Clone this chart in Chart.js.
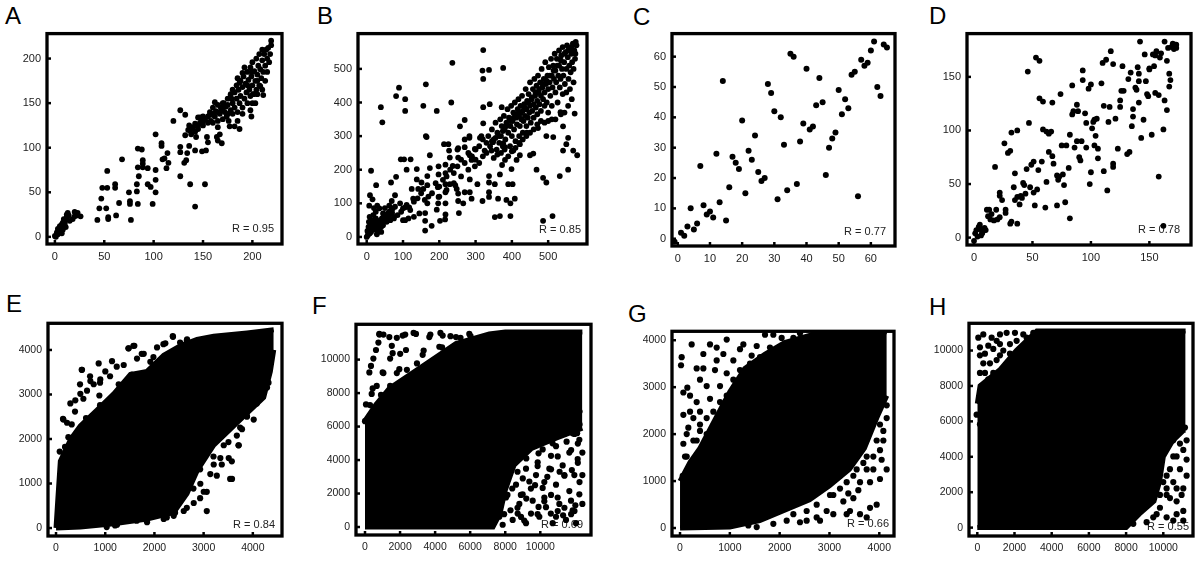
<!DOCTYPE html>
<html>
<head>
<meta charset="utf-8">
<script src="https://cdn.jsdelivr.net/npm/chart.js@4.4.1/dist/chart.umd.min.js"></script>
<style>
  html, body { margin: 0; padding: 0; background: #fff; }
  body { position: relative; width: 1200px; height: 568px; overflow: hidden; font-family: "Liberation Sans", Arial, sans-serif; }
  canvas { position: absolute; }
  .panel-letter { position: absolute; font-size: 24px; line-height: 24px; color: #000; }
</style>
</head>
<body>
<script>
// ---- data ----
const ticksA = [0, 50, 100, 150, 200];
const ticksB = [0, 100, 200, 300, 400, 500];
const ticksC = [0, 10, 20, 30, 40, 50, 60];
const ticksD = [0, 50, 100, 150];
const ticksE = [0, 1000, 2000, 3000, 4000];
const ticksF = [0, 2000, 4000, 6000, 8000, 10000];
const ticksG = [0, 1000, 2000, 3000, 4000];
const ticksH = [0, 2000, 4000, 6000, 8000, 10000];

const rValues = ['R = 0.95', 'R = 0.85', 'R = 0.77', 'R = 0.78', 'R = 0.84', 'R = 0.69', 'R = 0.66', 'R = 0.55'];

const pointsA = [
  [0,1],[2,3],[2,5],[3,9],[4,7],[5,12],[7,4],[7,14],[8,8],[8,16],[9,13],[10,18],[11,11],[12,22],[13,27],[15,18],[18,20],
  [20,23],[23,27],[26,23],[1,0],[5,10],[6,6],[10,15],[12,25],[3,3],[9,20],[14,24],[20,28],[22,24],
  [43,19],[45,32],[47,43],[48,55],[52,32],[53,74],[53,55],[54,22],[54,20],[61,59],[61,55],[62,24],[65,38],[68,87],[75,50],
  [76,40],[76,37],[77,19],[83,51],[83,59],[84,78],[84,99],[84,37],[85,68],[88,98],[89,86],[89,82],[89,78],[94,77],[94,59],
  [97,56],[99,37],[102,50],[102,115],[102,64],[102,75],[108,105],[108,102],[109,87],[111,88],[113,77],[114,94],[115,83],
  [120,130],[127,142],[127,68],[127,101],[127,95],[132,137],[131,83],[132,114],[133,86],[134,94],[135,120],[137,59],[136,102],
  [137,119],[142,127],[142,97],[142,34],[143,112],[145,134],[145,121],[147,134],[149,96],[150,130],[152,59],[154,112],[153,97],
  [155,106],[157,137],[160,137],[162,151],[164,112],[165,108],[165,123],[167,115],[169,105],[171,150],[174,135],[177,124],
  [179,155],[182,124],[187,121],[187,173],[190,184],[199,135],[201,160],[208,169],[211,159],[219,220],
  [150,125],[152,132],[155,128],[157,140],[158,130],[160,145],[160,128],[162,135],[163,141],[165,130],[165,148],[167,138],
  [168,145],[170,132],[170,150],[172,140],[173,146],[175,138],[175,155],[176,130],[178,142],[178,160],[180,150],[180,138],
  [182,162],[182,145],[184,155],[184,170],[185,140],[186,165],[187,150],[188,175],[188,158],[190,145],[190,168],[191,180],
  [192,155],[193,172],[194,162],[195,150],[195,185],[196,176],[197,165],[198,158],[198,190],[199,180],[200,170],[200,196],
  [201,160],[202,186],[203,175],[204,165],[204,200],[205,182],[206,192],[207,170],[207,205],[208,188],[209,178],[210,198],
  [210,165],[211,185],[212,205],[213,192],[213,175],[214,210],[215,200],[215,185],[216,212],[217,196],[218,205],[219,215],
  [210,210],[205,175],[200,185],[195,170],[192,190],[185,178],[180,165],[175,148],[170,142],[165,140],[160,138],[155,135],
  [150,135],[147,128],[145,125],[142,118],[140,123],[138,115],[136,125],[200,150],[203,150],[205,160],[198,142],[190,138],[185,130]
];

const pointsB = [
  [39,386],[43,341],[12,197],[26,154],[81,419],[89,444],[106,410],[106,375],[94,231],[103,231],[121,231],[110,200],[163,454],
  [156,390],[163,300],[165,297],[193,375],[174,243],[236,518],[233,400],[321,556],[319,495],[321,470],[337,497],[376,503],
  [9,124],[16,112],[7,93],[20,86],[29,93],[50,86],[62,93],[69,107],[78,124],[81,179],[67,162],[92,100],[106,50],[106,88],
  [117,88],[128,114],[124,143],[138,171],[138,202],[142,143],[151,162],[156,143],[161,71],[161,48],[161,19],[167,100],
  [167,181],[167,154],[174,205],[179,33],[193,81],[197,100],[198,119],[196,148],[198,186],[198,210],[202,48],[216,52],
  [217,67],[217,100],[217,133],[217,157],[217,190],[217,215],[213,276],[225,276],[227,257],[229,236],[237,211],[229,157],
  [244,154],[248,143],[254,71],[252,107],[252,129],[252,236],[252,264],[257,329],[266,100],[270,133],[270,267],[270,348],
  [283,300],[283,295],[284,243],[289,229],[284,171],[284,133],[289,114],[298,210],[298,262],[305,157],[312,295],[316,300],
  [319,107],[321,386],[321,338],[325,257],[337,181],[337,162],[337,133],[337,119],[339,395],[344,257],[348,282],[353,157],
  [353,59],[367,62],[362,114],[367,186],[373,214],[376,278],[381,229],[381,267],[372,386],[385,110],[390,157],[396,100],
  [396,62],[402,157],[399,202],[404,257],[408,114],[413,229],[422,243],[422,276],[450,243],[459,248],[468,200],[486,176],
  [495,162],[486,48],[512,62],[532,181],[555,200],[541,257],[550,276],[555,295],[569,257],[580,243],[573,367],[534,371],
  [541,329],[514,297],[495,300],[472,324],[441,310],
  [0,0],[3,5],[5,12],[8,10],[10,20],[12,15],[15,25],[18,30],[20,22],[22,35],[25,28],[28,40],[30,32],[32,45],[35,38],[38,50],
  [40,42],[42,55],[45,48],[48,60],[50,52],[52,65],[55,58],[58,70],[60,62],[62,75],[65,68],[68,80],[70,72],[72,85],[75,60],
  [78,90],[10,35],[15,40],[20,48],[25,55],[5,30],[30,20],[35,25],[40,30],[45,35],[12,50],[8,60],[18,65],[25,75],[35,85],
  [45,70],[55,45],[65,50],[75,55],[85,65],[95,75],[100,85],[110,95],[120,80],[130,105],[140,115],[150,130],[145,70],[130,60],
  [115,55],[100,50],[28,8],[2,18],[6,45],[40,15],
  [330,280],[335,300],[340,270],[345,320],[350,290],[355,340],[358,260],[360,310],[365,280],[368,350],[370,300],[372,330],
  [375,270],[378,360],[380,320],[382,290],[385,340],[388,380],[390,310],[392,355],[395,270],[396,330],[398,390],[400,300],
  [402,345],[404,370],[406,320],[408,400],[410,285],[412,355],[414,335],[416,380],[418,410],[420,300],[420,360],[422,330],
  [424,390],[426,350],[428,420],[430,310],[430,375],[432,345],[434,395],[436,360],[438,440],[440,330],[440,380],[442,405],
  [444,355],[446,425],[448,370],[450,390],[450,460],[452,340],[454,410],[456,375],[458,440],[460,395],[460,355],[462,470],
  [464,420],[466,385],[468,450],[470,365],[470,405],[472,480],[474,430],[476,395],[478,460],[480,375],[480,420],[482,500],
  [484,445],[486,410],[488,470],[490,390],[490,430],[492,520],[494,455],[496,400],[498,480],[500,440],[500,370],[502,505],
  [504,460],[506,420],[508,530],[510,480],[510,390],[512,445],[514,510],[516,470],[518,545],[520,430],[520,495],[522,460],
  [524,530],[526,400],[528,480],[530,555],[530,510],[532,445],[534,470],[536,540],[538,500],[540,425],[540,565],[542,480],
  [544,520],[546,455],[548,550],[550,500],[550,430],[552,570],[554,535],[556,470],[558,510],[560,560],[560,440],[562,490],
  [564,545],[566,520],[568,575],[570,500],[570,460],[572,555],[574,530],[576,580],[578,570],[575,545],[565,565],[555,555],
  [545,545],[535,525],[525,510],[515,495],[505,480],[495,465],[485,455],[475,440],[465,430],[455,415],[445,400],[435,385],
  [425,370],[415,365],[405,355],[395,345],[385,330],[375,315],[365,300],[355,295],[345,285],[565,410],[555,390],[545,370],
  [535,365],[520,350],[510,350],[500,345],[490,340],[480,345],[470,335],[460,320],[450,310],[440,300],[430,290],[420,280],
  [410,265],[400,255],[390,240],[380,260],[370,250],[360,245],[350,235],
  [200,150],[210,170],[220,180],[230,200],[240,190],[250,210],[260,230],[270,220],[280,250],[290,240],[300,260],[310,270],
  [320,290],[300,230],[280,200],[260,180],[240,160],[220,140],[200,120],[180,130],[170,120],[160,110],[190,160],[250,260],
  [270,290],[310,220],[320,240],[330,250]
];

const pointsC = [
  [-1,-1],[1,2],[2,1],[3,4],[4,10],[5,3],[6,5],[7,24],[8,11],[9,8],[10,9],[11,7],[12,28],[13,12],[14,52],[15,6],[16,17],
  [17,27],[18,25],[19,23],[20,39],[21,15],[22,29],[23,26],[24,34],[25,22],[26,19],[27,20],[28,51],[29,48],[30,42],[31,13],
  [32,40],[33,31],[34,16],[35,61],[36,60],[37,18],[38,32],[39,38],[40,56],[41,36],[42,37],[43,44],[44,53],[45,45],[46,21],
  [47,30],[48,33],[49,35],[50,49],[51,41],[52,46],[53,43],[54,54],[55,55],[56,14],[57,59],[58,57],[59,58],[60,62],[61,65],
  [62,50],[63,47],[64,64],[65,63]
];

const pointsD = [
  [0,-3],[1,4],[2,7],[4,10],[5,12],[5,8],[7,5],[7,4],[9,7],[9,9],[10,7],[3,1],[6,2],[11,26],[13,26],[12,20],[14,17],[15,22],
  [17,16],[18,66],[19,26],[20,17],[22,19],[22,42],[22,39],[24,35],[26,88],[27,26],[27,23],[29,79],[31,81],[31,13],[32,15],
  [32,98],[34,47],[35,60],[35,35],[37,100],[37,38],[37,13],[39,31],[40,39],[41,37],[42,51],[43,49],[44,41],[46,155],[45,64],
  [47,107],[48,47],[49,68],[51,71],[51,42],[52,30],[53,168],[54,45],[55,63],[56,165],[56,130],[58,71],[59,101],[59,127],
  [61,28],[62,99],[62,52],[64,97],[64,80],[66,99],[67,126],[67,76],[68,69],[71,58],[71,30],[72,54],[73,57],[74,134],[75,86],
  [76,59],[77,49],[78,33],[79,86],[81,65],[82,18],[82,96],[84,115],[84,142],[85,118],[86,84],[88,90],[88,124],[89,118],
  [90,75],[91,72],[92,90],[93,147],[93,156],[95,116],[96,107],[96,84],[98,139],[99,50],[100,143],[100,61],[101,102],[102,108],
  [103,86],[103,110],[104,95],[105,111],[106,74],[106,83],[109,144],[110,163],[111,62],[111,123],[113,166],[114,44],[115,108],
  [116,122],[117,174],[119,162],[119,69],[119,66],[121,111],[123,83],[125,122],[125,128],[126,137],[128,137],[127,160],
  [131,78],[133,80],[132,148],[134,154],[135,104],[136,120],[136,113],[138,140],[139,138],[140,159],[141,146],[141,126],
  [141,153],[142,183],[143,93],[145,110],[146,171],[147,146],[148,134],[149,132],[150,158],[150,157],[152,96],[153,171],
  [154,160],[155,170],[155,135],[156,174],[158,57],[158,133],[159,168],[160,172],[162,11],[162,101],[163,128],[163,183],
  [165,165],[165,119],[166,177],[167,141],[167,153],[168,147],[169,178],[170,181],[171,176],[172,180],[173,177],[173,180]
];

// E-H: outline of the solid black cloud (upper and lower edge) plus the separate points outside it
const edgeTopE = [[0,0],[40,700],[88,1500],[300,2000],[494,2292],[833,2653],[1173,3014],[1510,3446],[1850,3518],[2189,3879],[2527,4095],[2866,4238],[3205,4311],[3882,4383],[4425,4454]];
const edgeLowE = [[0,0],[494,22],[1173,95],[1850,203],[2392,346],[2663,778],[2866,1284],[3205,1860],[3612,2292],[3882,2581],[4221,2935],[4356,3518],[4425,4000]];
const pointsE = [
  [522,3553],[881,2977],[895,2760],[610,2472],[150,2436],[183,1823],[488,3229],[319,2328],[556,2904],[1098,3409],[1234,3625],
  [1336,3120],[1539,3445],[1471,4036],[1573,4094],[1742,3914],[1980,3841],[2183,4130],[2373,4310],[2522,4166],[2658,4202],
  [895,3265],[692,3409],[251,2040],[115,1030],[386,2616],[759,2328],
  [528,3555],[867,3697],[1138,3749],[1477,4037],[1592,4095],[1783,3914],[2222,4151],[2378,4296],[698,3302],[766,3230],
  [1002,3518],[1274,3230],[494,3014],[291,2798],[142,2452],[224,2365],[75,1717],[392,2869],[630,3085],[900,3338],[1376,3662],
  [1646,3806],[1917,3734],[2053,4058],[2663,4238],
  [1030,22],[1200,58],[1640,166],[1844,238],[2047,310],[2420,346],[2658,454],[2929,670],[3064,814],[3268,1175],[3539,1103],
  [3573,1499],[3675,2076],[3709,1859],[3878,2508],[4081,2796],[4217,3049],[4319,3265],[2929,1319],[2793,886],[3200,1607],
  [2522,598],[2047,526],[3064,382],[3742,2256],[3505,1931],[3369,1427],[2251,238],
  [3577,1103],[3510,1572],[3340,1572],[3713,1860],[3882,2508],[4085,2832],[3136,1211],[3002,815],[2799,562],[2596,383],
  [2392,275],[2933,995],[3205,1427],[3409,1860],[3780,2221],[4018,2437],[4289,3157],[1240,74],[1850,130],[2189,203]
];

const edgeTopF = [[0,6360],[627,7320],[1390,8276],[3290,9620],[5190,10960],[7090,11535],[8000,11650],[12400,11650]];
const edgeLowF = [[0,0],[7300,0],[7700,800],[8000,2200],[8500,3700],[9500,4700],[10900,5300],[12400,5900]];
const pointsF = [
  [249,9235],[478,10059],[765,11017],[822,11496],[1052,11496],[1530,10826],[1816,11304],[2294,11496],[2772,11592],[1434,10059],
  [2008,10346],[1052,9197],[669,8430],[382,7951],[287,7281],[0,6323],[860,6898],[1816,9197],[3346,10538],[3729,11496],
  [4302,11592],[4876,11400],[5449,11304],[6023,11400],[4398,10730],[2964,9771],[2390,9388],[1434,8430],
  [817,11534],[1388,11343],[2150,11437],[2909,11534],[3669,11343],[4430,11437],[5191,11343],[5950,11534],[627,10575],
  [1578,10383],[2339,10575],[3290,10287],[4240,10767],[342,9620],[1008,9237],[1958,9428],[437,8276],[57,7320],[913,7893],
  [6405,383],[7170,383],[7935,766],[8700,1150],[9082,383],[9847,766],[10229,1533],[10612,1916],[10994,958],[11376,1150],
  [11759,766],[11950,958],[12237,2682],[12141,3832],[11759,4599],[11950,5557],[12237,6131],[11376,5557],[10994,4215],
  [10612,3449],[10229,2682],[9464,2299],[8891,1916],[8126,1916],[7552,1150],[6788,766],[9847,3640],[11376,3066],[12141,4982],
  [12237,6898],[11950,7281],
  [8424,5787],[8994,5594],[9755,5977],[10515,5690],[11276,5977],[11847,5594],[12227,5211],[8234,4828],[8804,4444],[9565,5019],
  [10135,4636],[10896,4828],[11656,4444],[12132,4061],[8424,3678],[9184,3487],[9850,3870],[10515,3487],[11276,3678],[11942,3103],
  [7853,2912],[8614,2529],[9375,2720],[10135,2337],[10896,2529],[11656,2146],[12227,1954],[8043,1762],[8804,1379],[9565,1571],
  [10325,1188],[11086,1379],[11847,996],[7662,613],[8424,421],[9184,230],[9945,613],[10706,230],[11466,421],[12037,230],
  [7853,134],[8709,805],[9470,805],[10230,1762],[10991,1762],[11751,1571],[12400,3103],[12400,4444],[12400,1379],[8994,1954],
  [9755,3103],[10610,4253],[11371,3103],[8138,4061],[10896,613],
  [8700,3300],[9200,4100],[9900,4400],[10700,5000],[11500,5100],[12100,5600],[9000,2900],[9700,2500],[10400,3000],[11100,3300],
  [11800,3400],[8400,2300],[9200,1700],[9900,1200],[10600,800],[11300,700],[12000,1300],[8300,1000],[8900,600]
];

const edgeTopG = [[0,1000],[200,1400],[400,1700],[700,2300],[1000,2900],[1300,3400],[1700,3700],[2100,3950],[2600,4100],[3000,4170],[4150,4180]];
const edgeLowG = [[0,0],[1000,20],[1600,160],[2100,380],[2600,600],[3000,900],[3400,1250],[3700,1700],[3950,2350],[4150,2820]];
const pointsG = [
  [33,3638],[20,3467],[234,3911],[67,2887],[147,2990],[201,2819],[334,3399],[401,3160],[468,3399],[535,3024],[736,3843],
  [870,3707],[937,4014],[702,3365],[167,2137],[67,2410],[268,2341],[100,1522],[54,1113],[401,2205],[602,1864],[334,1864],
  [1271,3911],[1539,3877],[1706,4116],[1873,4116],[2040,4048],[2408,4150],[1070,3570],[1204,3809],[1438,3672],[1806,3843],
  [1873,3638],[2275,4048],[2676,4150],
  [134,2000],[268,1864],[401,2068],[535,2341],[669,2478],[803,2683],[937,2819],[401,2478],[602,2751],[803,3024],[1070,3160],
  [1204,3365],[937,3297],[1405,3502],[1606,3638],[736,3570],[201,2478],[134,1522],[268,1386],[67,1795],[535,2000],[334,2683],
  [468,3707],[602,3911],
  [970,89],[1371,55],[1539,20],[2141,157],[2408,123],[2743,225],[2943,362],[3077,294],[3278,567],[3412,362],[3613,294],
  [3747,225],[3814,430],[3947,498],[3378,737],[3579,806],[3814,976],[4014,1044],[4148,1249],[4047,1454],[3880,1522],
  [3747,1249],[3947,1864],[4081,1864],[4014,2205],[4148,2341],[3613,976],[3211,840],[3010,703],[2743,498],[2542,362],
  [2275,294],[3680,1386],[3479,1113],
  [3077,703],[3211,1113],[3345,976],[3546,1249],[3747,1522],[3880,1249],[4014,1659],[4081,2068],[4148,2614],[3479,635],
  [3345,294],[2810,157],[2542,157],[1873,89]
];

const edgeTopH = [[0,7000],[150,8000],[1200,8900],[2100,10000],[3200,11100],[11200,11100]];
const edgeLowH = [[0,0],[8000,0],[8700,760],[9500,1500],[9800,2600],[10000,4000],[10500,4900],[11100,5500],[11200,5500]];
const pointsH = [
  [54,10727],[323,10908],[143,10183],[143,9730],[323,9277],[591,10274],[860,10093],[1039,10546],[1219,10908],[1577,10999],
  [2025,10999],[2473,10908],[1756,10365],[1219,9730],[681,9277],[412,8734],[233,8009],[591,8371],[771,7646],[143,7103],[-36,6378],
  [143,8734],[412,9821],[1039,9459],[1398,10002],[1756,9821],[2115,10546],[2652,10727],[3011,10999],[771,10727],[1219,10365],
  [502,7646],[860,8734],[143,5835],
  [10179,5472],[10537,4929],[10716,4023],[11075,4385],[10895,3298],[11254,2935],[10537,2573],[10179,1848],[10716,1486],
  [11075,2211],[9820,1123],[10179,580],[10716,761],[9462,580],[9104,308],[10179,2211],[10358,3298],[11075,942],[11254,3842],
  [10716,5653],[11254,4929],[8387,217],[8028,127],
  [10537,4023],[10895,4747],[11164,5653],[10179,2935],[10716,2211],[10358,1667],[10985,1848],[9820,1848],[9641,761],
  [10537,399],[11075,399],[9999,2573]
];

// ---- layout (pixel boxes of each frame, axis windows) ----
const FONT = '"Liberation Sans", Arial, sans-serif';
const panels = [
  { letter: 'A', lx: 5,   ly: 4,   box: [47, 25, 282, 244],   xr: [-8, 230],      yr: [-8, 228],      ticks: ticksA, pts: pointsA, r: 2.9, fs: 11,   rPos: [8, 15] },
  { letter: 'B', lx: 317, ly: 4,   box: [358, 25, 587, 244],  xr: [-24, 607],     yr: [-21, 605],     ticks: ticksB, pts: pointsB, r: 2.9, fs: 11,   rPos: [6, 14] },
  { letter: 'C', lx: 633, ly: 5,   box: [672, 25, 895, 246],  xr: [-1.8, 67.5],   yr: [-2.4, 67.6],   ticks: ticksC, pts: pointsC, r: 3.0, fs: 11,   rPos: [9, 14] },
  { letter: 'D', lx: 929, ly: 4,   box: [967, 25, 1191, 245], xr: [-6, 185.6],    yr: [-6.9, 190.4],  ticks: ticksD, pts: pointsD, r: 2.9, fs: 11,   rPos: [11, 15] },
  { letter: 'E', lx: 6,   ly: 292, box: [48, 315, 282, 536],  xr: [-163, 4593],   yr: [-179, 4599],   ticks: ticksE, pts: pointsE, r: 3.1, fs: 10.5, rPos: [7, 11], top: edgeTopE, low: edgeLowE },
  { letter: 'F', lx: 312, ly: 294, box: [356, 316, 591, 535], xr: [-513, 12892],  yr: [-477, 12109],  ticks: ticksF, pts: pointsF, r: 3.1, fs: 10.5, rPos: [8, 10], top: edgeTopF, low: edgeLowF },
  { letter: 'G', lx: 628, ly: 302, box: [672, 323, 894, 536], xr: [-161, 4295],   yr: [-170, 4190],   ticks: ticksG, pts: pointsG, r: 3.1, fs: 10.5, rPos: [5, 12], top: edgeTopG, low: edgeLowG },
  { letter: 'H', lx: 929, ly: 295, box: [969, 315, 1193, 536], xr: [-446, 11597], yr: [-473, 11538],  ticks: ticksH, pts: pointsH, r: 3.1, fs: 10.5, rPos: [4, 9], top: edgeTopH, low: edgeLowH }
];

const Y_W = 44, X_H = 24, PAD = 4;

const framePlugin = {
  id: 'frame',
  beforeDatasetsDraw(chart, args, opts) {
    const { ctx, chartArea: a } = chart;
    ctx.save();
    ctx.font = opts.fs + 'px ' + FONT;
    ctx.fillStyle = '#222';
    ctx.textAlign = 'right';
    ctx.textBaseline = 'middle';
    ctx.fillText(opts.text, a.right - opts.pos[0], a.bottom - opts.pos[1]);
    ctx.restore();
  },
  afterDraw(chart) {
    const { ctx, chartArea: a, scales } = chart;
    ctx.save();
    ctx.strokeStyle = '#000';
    ctx.lineWidth = 2.5;
    scales.x.ticks.forEach(t => {
      const px = scales.x.getPixelForValue(t.value);
      ctx.beginPath(); ctx.moveTo(px, a.bottom); ctx.lineTo(px, a.bottom - 4); ctx.stroke();
    });
    scales.y.ticks.forEach(t => {
      const py = scales.y.getPixelForValue(t.value);
      ctx.beginPath(); ctx.moveTo(a.left, py); ctx.lineTo(a.left + 4, py); ctx.stroke();
    });
    ctx.lineWidth = 3.3;
    ctx.strokeRect(a.left, a.top, a.right - a.left, a.bottom - a.top);
    ctx.restore();
  }
};

const toXY = arr => arr.map(p => ({ x: p[0], y: p[1] }));

function axis(range, ticks, fs, isX) {
  return {
    type: 'linear',
    min: range[0],
    max: range[1],
    afterBuildTicks: s => { s.ticks = ticks.map(v => ({ value: v })); },
    afterFit: s => { if (isX) s.height = X_H; else s.width = Y_W; },
    grid: { display: false, drawTicks: false },
    border: { display: false },
    ticks: {
      padding: 6,
      color: '#222',
      font: { family: FONT, size: fs },
      maxRotation: 0,
      autoSkip: false,
      callback: v => String(v)
    }
  };
}

panels.forEach((p, i) => {
  const [L, T, R, B] = p.box;
  const letter = document.createElement('div');
  letter.className = 'panel-letter';
  letter.textContent = p.letter;
  letter.style.left = p.lx + 'px';
  letter.style.top = p.ly + 'px';
  document.body.appendChild(letter);

  const canvas = document.createElement('canvas');
  const w = R - L + Y_W + PAD, h = B - T + PAD + X_H;
  canvas.width = w; canvas.height = h;
  canvas.style.width = w + 'px'; canvas.style.height = h + 'px';
  canvas.style.left = (L - Y_W) + 'px';
  canvas.style.top = (T - PAD) + 'px';
  document.body.appendChild(canvas);

  const datasets = [{
    label: 'points',
    data: toXY(p.pts),
    pointRadius: p.r,
    pointBackgroundColor: '#000',
    pointBorderWidth: 0
  }];
  if (p.top) {
    datasets.push({
      label: 'cloud top',
      data: toXY(p.top),
      showLine: true,
      pointRadius: 0,
      borderColor: '#000',
      borderWidth: 5,
      backgroundColor: '#000',
      fill: '+1',
      tension: 0
    });
    datasets.push({
      label: 'cloud bottom',
      data: toXY(p.low),
      showLine: true,
      pointRadius: 0,
      borderColor: '#000',
      borderWidth: 5,
      fill: false,
      tension: 0
    });
  }

  new Chart(canvas, {
    type: 'scatter',
    data: { datasets },
    options: {
      responsive: false,
      animation: false,
      devicePixelRatio: 1,
      layout: { padding: { top: PAD, right: PAD, left: 0, bottom: 0 } },
      plugins: {
        legend: { display: false },
        tooltip: { enabled: false },
        frame: { text: rValues[i], pos: p.rPos, fs: 11 }
      },
      scales: {
        x: axis(p.xr, p.ticks, p.fs, true),
        y: axis(p.yr, p.ticks, p.fs, false)
      }
    },
    plugins: [framePlugin]
  });
});
</script>
</body>
</html>
